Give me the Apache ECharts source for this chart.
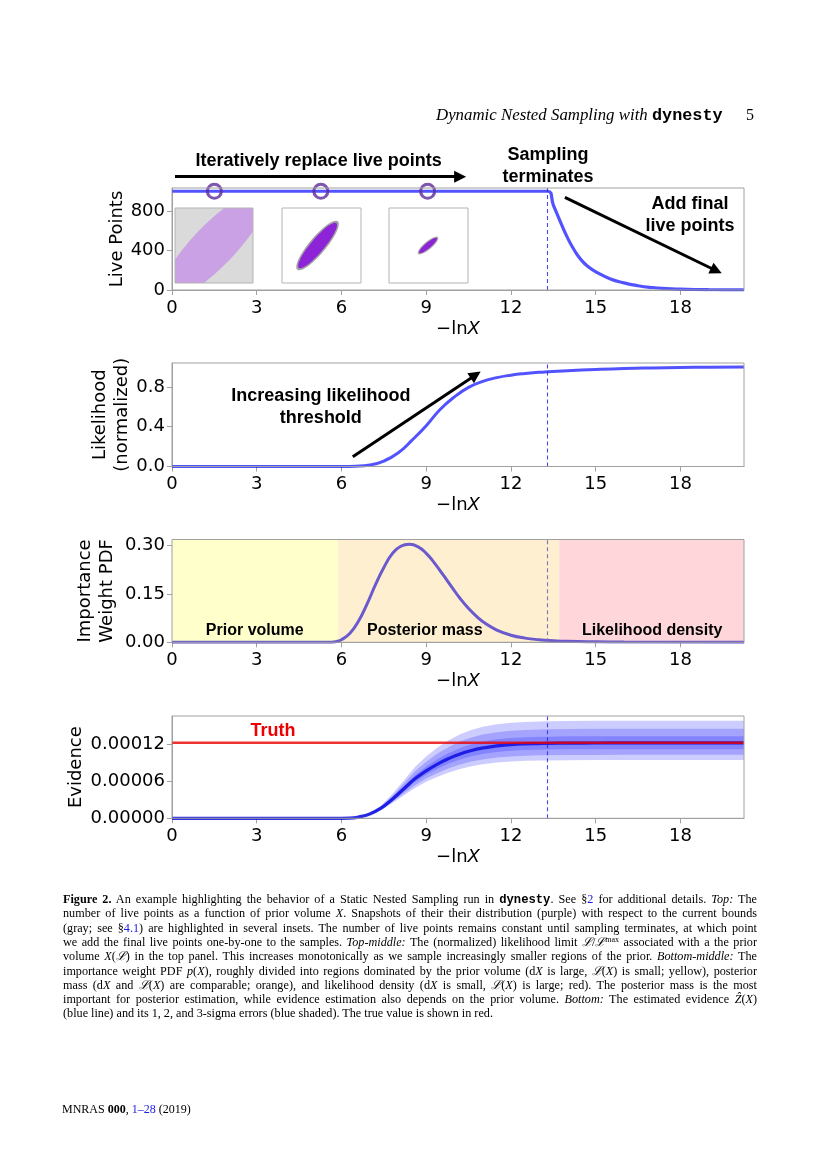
<!DOCTYPE html>
<html><head><meta charset="utf-8">
<script src="https://cdn.jsdelivr.net/npm/echarts@6/dist/echarts.min.js"></script>
<style>
html,body{margin:0;padding:0;background:#fff;}
#page{position:relative;width:827px;height:1169px;overflow:hidden;background:#fff;}
#chart{position:absolute;left:0;top:0;width:827px;height:1169px;}
.txt{position:absolute;font-family:'Liberation Serif','DejaVu Serif',serif;color:#000;white-space:nowrap;}
.tt{font-family:'Liberation Mono','DejaVu Sans Mono',monospace;font-weight:bold;font-style:normal;}
.ln{color:#1a1ae6;}
.cap{left:63px;font-size:12.2px;line-height:14px;display:inline-block;}
sup{font-size:8px;line-height:0;vertical-align:4px;}
</style></head><body>
<div id="page">
<div id="chart"></div>
<div class="txt" id="hdr" style="top:104px;left:436px;font-size:16px;line-height:22px;font-style:italic;display:inline-block;">Dynamic Nested Sampling with <span class="tt">dynesty</span></div>
<div class="txt" style="top:104px;left:746px;font-size:16px;line-height:22px;">5</div>
<div id="caption"></div>
<div class="txt" style="left:62px;top:1101px;font-size:12px;line-height:16px;">MNRAS <b>000</b>, <span class="ln">1–28</span> (2019)</div>
</div>
<script>
// ---------- data ----------
const xMin = 0, xMax = 20.25;
const xTicks = [0, 3, 6, 9, 12, 15, 18];
const termX = 13.3;

// Panel 1: live points
const liveX = [0, 13.3, 13.5, 13.75, 14, 14.25, 14.5, 14.75, 15, 15.5, 16, 16.5, 17, 17.5, 18, 18.5, 19, 19.5, 20.25];
const liveN = [1000, 1000, 860, 690, 530, 400, 300, 232, 185, 115, 72, 43, 25, 15, 9, 5, 3, 2, 1];
const liveTicks = [0, 400, 800];
const liveMax = 1033;
const snapshotX = [1.5, 5.27, 9.05];
// insets: [cx, cy, halfLong, halfShort, angleDeg] in inset units
const insetBound = [[0.5, 0.5, 2.0, 2.0, 0], [0.45, 0.5, 0.40, 0.105, 50], [0.494, 0.5, 0.165, 0.05, 40]];
const insetCloud = [[0.5, 0.5, 0.95, 0.27, 46], [0.45, 0.5, 0.37, 0.085, 50], [0.494, 0.5, 0.145, 0.036, 40]];

// Panel 2: likelihood
const likeX = [0, 6, 6.5, 7, 7.5, 8, 8.5, 9, 9.5, 10, 10.5, 11, 11.5, 12, 12.5, 13, 13.3, 14, 15, 16, 17, 18, 19, 20.25];
const likeY = [0, 0, 0.003, 0.015, 0.055, 0.135, 0.265, 0.41, 0.575, 0.70, 0.795, 0.855, 0.893, 0.918, 0.935, 0.947, 0.952, 0.962, 0.975, 0.985, 0.991, 0.995, 0.998, 1.0];
const likeTicks = [0, 0.4, 0.8];
const likeMax = 1.04;

// Panel 3: importance weight PDF
const pdfX = [0, 5.5, 5.8, 6.0, 6.3, 6.6, 6.9, 7.2, 7.5, 7.8, 8.1, 8.4, 8.7, 9.0, 9.3, 9.6, 9.9, 10.2, 10.5, 10.8, 11.1, 11.5, 12, 12.5, 13, 13.5, 14, 15, 16, 20.25];
const pdfY = [0, 0, 0.002, 0.008, 0.028, 0.065, 0.118, 0.178, 0.232, 0.275, 0.298, 0.304, 0.297, 0.276, 0.245, 0.209, 0.172, 0.136, 0.105, 0.079, 0.058, 0.038, 0.022, 0.013, 0.008, 0.005, 0.003, 0.0015, 0.0008, 0];
const pdfTicks = [0, 0.15, 0.30];
const pdfMax = 0.319;
const regionEdges = [0, 5.88, 13.71, 20.25];
const regionNames = ['Prior volume', 'Posterior mass', 'Likelihood density'];
const regionLabelX = [2.93, 8.95, 17.0];
const regionLabelY = 0.035;

// Panel 4: evidence
const evX = [0, 6, 6.3, 6.6, 7, 7.4, 7.8, 8.2, 8.6, 9, 9.4, 9.8, 10.2, 10.6, 11, 11.5, 12, 12.5, 13, 13.3, 14, 15, 16, 17, 18, 19, 20.25];
const evZ = [0, 0, 2e-7, 2e-6, 7e-6, 1.65e-5, 3.1e-5, 4.75e-5, 6.4e-5, 7.7e-5, 8.8e-5, 9.7e-5, 1.045e-4, 1.1e-4, 1.14e-4, 1.175e-4, 1.195e-4, 1.207e-4, 1.213e-4, 1.216e-4, 1.22e-4, 1.222e-4, 1.223e-4, 1.223e-4, 1.223e-4, 1.223e-4, 1.223e-4];
const evLnSigma = [0.03, 0.03, 0.045, 0.06, 0.07, 0.076, 0.08, 0.084, 0.087, 0.088, 0.089, 0.089, 0.089, 0.088, 0.088, 0.087, 0.087, 0.086, 0.086, 0.086, 0.086, 0.086, 0.086, 0.086, 0.086, 0.086, 0.086];
const sigmaLevels = [3, 2, 1];
const evTicks = [0, 0.00006, 0.00012];
const evMax = 0.000166;
const truthZ = 0.0001225;

// annotations (data coordinates)
const p1Texts = [
  {t: 'Iteratively replace live points', x: 5.19, y: 1309},
  {t: 'Sampling\nterminates', x: 13.31, y: 1251},
  {t: 'Add final\nlive points', x: 18.34, y: 759}
];
const p1Arrows = [[[0.106, 1147], [10.2, 1147]], [[13.91, 939], [19.27, 195]]];
const p2Texts = [{t: 'Increasing likelihood\nthreshold', x: 5.27, y: 0.598}];
const p2Arrows = [[[6.40, 0.098], [10.75, 0.92]]];
const p4Texts = [{t: 'Truth', x: 3.575, y: 0.0001411}];

// ---------- styles ----------
const FONT = 'DejaVu Sans';
const ANN = 'Liberation Sans';
const frame = '#a0a0a0';
const regionColors = ['#ffffcc', '#fdefcf', '#ffd6d9'];
const insetBoundFill = ['#dadada', '#a3a3a3', '#ababab'];
const insetCloudFill = ['#c9a1e4', '#8e24d8', '#8e24d8'];

const grids = [
  {left: 172, top: 188, width: 572, height: 102},
  {left: 172, top: 363, width: 572, height: 103.5},
  {left: 172, top: 539.5, width: 572, height: 102.8},
  {left: 172, top: 716, width: 572, height: 102.3},
  {left: 175, top: 208, width: 78, height: 75},
  {left: 282, top: 208, width: 79, height: 75},
  {left: 389, top: 208, width: 79, height: 75}
].map((g, i) => Object.assign({show: true, borderColor: i < 4 ? frame : '#b4b4b4', borderWidth: 1, z: 10, containLabel: false, outerBoundsMode: 'none'}, g));

const xName = '{a|\u2212ln}{b|X}';
function mkX(gi) {
  return {
    type: 'value', gridIndex: gi, min: xMin, max: xMax, interval: 3,
    axisLine: {show: true, onZero: false, lineStyle: {color: frame, width: 1}},
    axisTick: {show: true, length: 5, customValues: xTicks, lineStyle: {color: frame, width: 1}},
    axisLabel: {show: true, customValues: xTicks, margin: 9, color: '#000', fontSize: 18, fontFamily: FONT},
    splitLine: {show: false},
    name: xName, nameLocation: 'middle', nameGap: 30, nameMoveOverlap: false,
    nameTextStyle: {rich: {a: {fontSize: 18, fontFamily: FONT, color: '#000'}, b: {fontSize: 18, fontFamily: FONT, fontStyle: 'italic', color: '#000'}}}
  };
}
function mkY(gi, max, ticks, fmt, name, gap) {
  return {
    type: 'value', gridIndex: gi, min: 0, max: max, interval: ticks[1],
    axisLine: {show: true, lineStyle: {color: frame, width: 1}},
    axisTick: {show: true, length: 5, customValues: ticks, lineStyle: {color: frame, width: 1}},
    axisLabel: {show: true, customValues: ticks, margin: 7, color: '#000', fontSize: 18, fontFamily: FONT, formatter: fmt},
    splitLine: {show: false},
    name: name, nameLocation: 'middle', nameRotate: 90, nameGap: gap, nameMoveOverlap: false,
    nameTextStyle: {fontSize: 18, fontFamily: FONT, color: '#000', lineHeight: 22}
  };
}
const xAxes = [0, 1, 2, 3].map(mkX);
const yAxes = [
  mkY(0, liveMax, liveTicks, v => String(Math.round(v)), 'Live Points', 44),
  mkY(1, likeMax, likeTicks, v => v.toFixed(1), 'Likelihood\n(normalized)', 39),
  mkY(2, pdfMax, pdfTicks, v => v.toFixed(2), 'Importance\nWeight PDF', 54),
  mkY(3, evMax, evTicks, v => v.toFixed(5), 'Evidence', 85)
];
for (let gi = 4; gi < 7; gi++) {
  xAxes.push({type: 'value', gridIndex: gi, min: 0, max: 1, show: false});
  yAxes.push({type: 'value', gridIndex: gi, min: 0, max: 1, show: false});
}

function vline(color) {
  return {silent: true, symbol: 'none', animation: false, label: {show: false},
    lineStyle: {color: color, width: 1.1, type: [4, 3]}, data: [{xAxis: termX}]};
}
function textSeries(ai, items, style) {
  return {
    type: 'scatter', xAxisIndex: ai, yAxisIndex: ai, clip: false, silent: true, z: 6,
    symbol: 'circle', symbolSize: 1, itemStyle: {color: 'rgba(0,0,0,0)'},
    label: Object.assign({show: true, position: 'inside', align: 'center', verticalAlign: 'middle',
      fontFamily: ANN, fontWeight: 'bold', fontSize: 18, color: '#000', lineHeight: 22,
      textBorderWidth: 0, textShadowBlur: 0, opacity: 1,
      formatter: p => p.data.text}, style || {}),
    emphasis: {disabled: true},
    data: items.map(t => ({value: [t.x, t.y], text: t.t}))
  };
}
function arrowSeries(ai, arrows) {
  return {
    type: 'lines', coordinateSystem: 'cartesian2d', xAxisIndex: ai, yAxisIndex: ai, clip: false, silent: true, z: 6,
    symbol: ['none', 'triangle'], symbolSize: 12,
    lineStyle: {color: '#000', width: 3, opacity: 1, curveness: 0},
    data: arrows.map(a => ({coords: a}))
  };
}
function ellipseRender(params, api) {
  const c = api.coord([api.value(0), api.value(1)]);
  const s = api.size([1, 1]);
  const a = api.value(2) * s[0], b = api.value(3) * s[0];
  const th = api.value(4) * Math.PI / 180;
  const pts = [];
  for (let k = 0; k < 72; k++) {
    const t = k / 72 * 2 * Math.PI;
    const ex = a * Math.cos(t), ey = b * Math.sin(t);
    pts.push([c[0] + ex * Math.cos(th) - ey * Math.sin(th), c[1] - (ex * Math.sin(th) + ey * Math.cos(th))]);
  }
  const fills = params.dataIndex === 0 ? insetBoundFill : insetCloudFill;
  return {type: 'polygon', shape: {points: pts}, style: {fill: fills[params.seriesIndex - firstInsetSeries]}};
}
function lineSeries(ai, xs, ys, color, width, smooth, z) {
  return {
    type: 'line', xAxisIndex: ai, yAxisIndex: ai, z: z || 3, showSymbol: false, symbol: 'none', smooth: smooth,
    lineStyle: {color: color, width: width}, emphasis: {disabled: true},
    data: xs.map((x, i) => [x, ys[i]])
  };
}

const series = [];
// Panel 1
const s1 = lineSeries(0, liveX, liveN, 'rgba(0,0,255,0.68)', 3.2, 0.5);
s1.markLine = vline('rgba(40,40,235,0.85)');
series.push(s1);
series.push({
  type: 'scatter', xAxisIndex: 0, yAxisIndex: 0, z: 4, symbol: 'circle', symbolSize: 14,
  itemStyle: {color: 'rgba(0,0,0,0)', borderColor: '#5e2a98', borderWidth: 3},
  data: snapshotX.map(x => [x, liveN[0]])
});
series.push(textSeries(0, p1Texts));
series.push(arrowSeries(0, p1Arrows));
const firstInsetSeries = series.length;
for (let i = 0; i < 3; i++) {
  series.push({
    type: 'custom', xAxisIndex: 4 + i, yAxisIndex: 4 + i, clip: true, silent: true, renderItem: ellipseRender,
    data: [insetBound[i], insetCloud[i]]
  });
}
// Panel 2
const s2 = lineSeries(1, likeX, likeY, 'rgba(0,0,255,0.68)', 3, 0.5);
s2.markLine = vline('rgba(40,40,235,0.85)');
series.push(s2);
series.push(textSeries(1, p2Texts));
series.push(arrowSeries(1, p2Arrows));
// Panel 3
series.push({
  type: 'custom', xAxisIndex: 2, yAxisIndex: 2, z: 1, clip: true, silent: true,
  renderItem: function (params, api) {
    const p0 = api.coord([api.value(0), pdfMax]);
    const p1 = api.coord([api.value(1), 0]);
    return {type: 'rect', shape: {x: p0[0], y: p0[1], width: p1[0] - p0[0], height: p1[1] - p0[1]},
      style: {fill: regionColors[api.value(2)]}};
  },
  data: [0, 1, 2].map(i => [regionEdges[i], regionEdges[i + 1], i])
});
const s3 = lineSeries(2, pdfX, pdfY, '#6a5acd', 3, 0.5);
s3.markLine = vline('#8075b0');
series.push(s3);
series.push(textSeries(2, regionNames.map((t, i) => ({t: t, x: regionLabelX[i], y: regionLabelY})), {fontSize: 16}));
// Panel 4
series.push({
  type: 'custom', xAxisIndex: 3, yAxisIndex: 3, z: 2, clip: true, silent: true,
  renderItem: function (params, api) {
    const k = api.value(0);
    const up = [], lo = [];
    for (let i = 0; i < evX.length; i++) {
      up.push(api.coord([evX[i], evZ[i] * Math.exp(k * evLnSigma[i])]));
      lo.push(api.coord([evX[i], evZ[i] * Math.exp(-k * evLnSigma[i])]));
    }
    return {type: 'polygon', shape: {points: up.concat(lo.reverse())}, style: {fill: 'rgba(0,0,255,0.2)'}};
  },
  data: sigmaLevels.map(k => [k, 0])
});
const s4 = lineSeries(3, evX, evZ, 'rgba(10,10,225,0.85)', 3.2, 0.5);
s4.markLine = vline('rgba(40,40,235,0.85)');
series.push(s4);
series.push(lineSeries(3, [xMin, xMax], [truthZ, truthZ], 'rgba(235,0,0,0.8)', 2.5, false, 4));
series.push(textSeries(3, p4Texts, {color: '#ee0000'}));

const chart = echarts.init(document.getElementById('chart'), null, {renderer: 'canvas'});
chart.setOption({
  animation: false,
  backgroundColor: 'rgba(0,0,0,0)',
  grid: grids, xAxis: xAxes, yAxis: yAxes, series: series
});

// ---------- caption ----------
const capLines = [
  '<b>Figure 2.</b> An example highlighting the behavior of a Static Nested Sampling run in <span class="tt">dynesty</span>. See §<span class="ln">2</span> for additional details. <i>Top:</i> The',
  'number of live points as a function of prior volume <i>X</i>. Snapshots of their their distribution (purple) with respect to the current bounds',
  '(gray; see §<span class="ln">4.1</span>) are highlighted in several insets. The number of live points remains constant until sampling terminates, at which point',
  'we add the final live points one-by-one to the samples. <i>Top-middle:</i> The (normalized) likelihood limit <i>ℒ</i>/<i>ℒ</i><sup>max</sup> associated with a the prior',
  'volume <i>X</i>(<i>ℒ</i>) in the top panel. This increases monotonically as we sample increasingly smaller regions of the prior. <i>Bottom-middle:</i> The',
  'importance weight PDF <i>p</i>(<i>X</i>), roughly divided into regions dominated by the prior volume (d<i>X</i> is large, <i>ℒ</i>(<i>X</i>) is small; yellow), posterior',
  'mass (d<i>X</i> and <i>ℒ</i>(<i>X</i>) are comparable; orange), and likelihood density (d<i>X</i> is small, <i>ℒ</i>(<i>X</i>) is large; red). The posterior mass is the most',
  'important for posterior estimation, while evidence estimation also depends on the prior volume. <i>Bottom:</i> The estimated evidence <i>Ẑ</i>(<i>X</i>)',
  '(blue line) and its 1, 2, and 3-sigma errors (blue shaded). The true value is shown in red.'
];
const capEl = document.getElementById('caption');
const capEls = capLines.map((h, i) => {
  const d = document.createElement('div');
  d.className = 'txt cap';
  d.style.top = (892 + 14.3 * i) + 'px';
  d.innerHTML = h;
  capEl.appendChild(d);
  return d;
});
function fitAll() {
  const W = 694;
  capEls.forEach((d, i) => {
    d.style.wordSpacing = '0px'; d.style.transform = 'none';
    if (i === capEls.length - 1) return;
    const w = d.getBoundingClientRect().width;
    const n = (d.textContent.match(/ /g) || []).length;
    if (w < W && n) d.style.wordSpacing = ((W - w) / n) + 'px';
    else if (w > W) { d.style.transformOrigin = '0 0'; d.style.transform = 'scaleX(' + (W / w) + ')'; }
  });
  const h = document.getElementById('hdr');
  h.style.fontSize = '16px';
  const hw = h.getBoundingClientRect().width;
  h.style.fontSize = (16 * 287 / hw) + 'px';
}
fitAll();
if (document.fonts && document.fonts.ready) document.fonts.ready.then(fitAll);
</script>
</body></html>
